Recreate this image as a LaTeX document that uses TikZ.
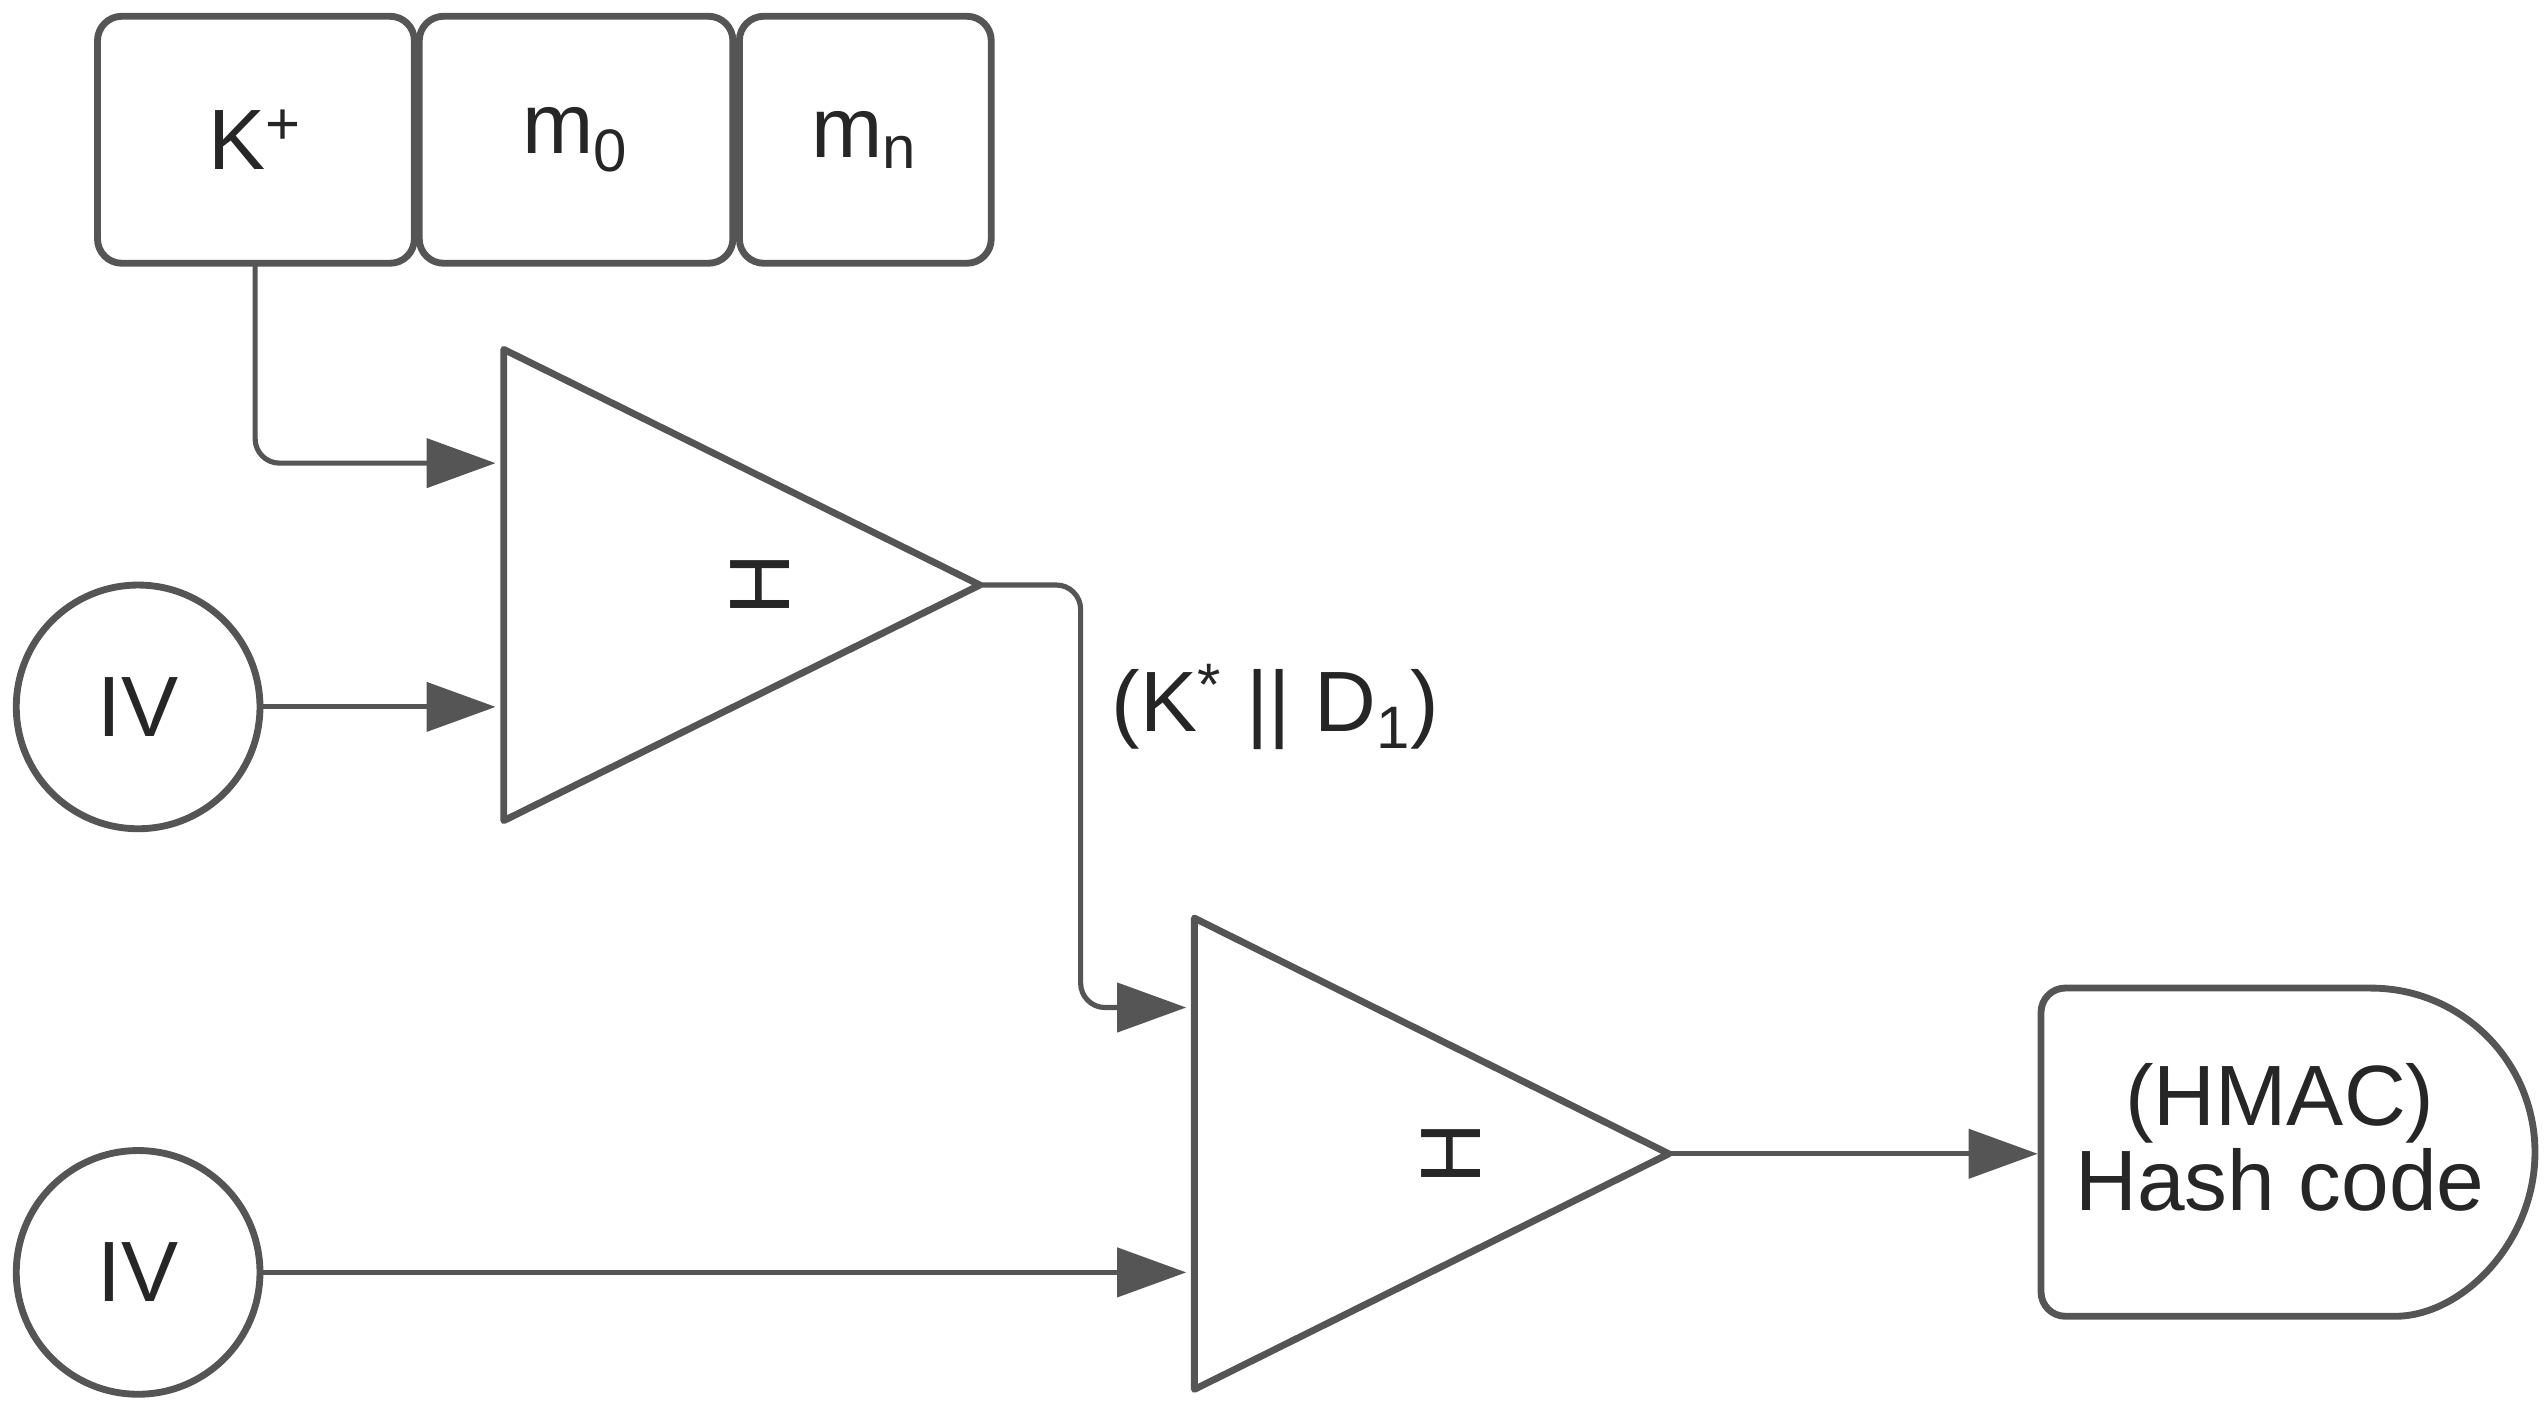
\documentclass[tikz,border=0pt]{standalone}
\usepackage{fontspec}
\setmainfont{Liberation Sans}
\usetikzlibrary{arrows.meta}
\definecolor{ln}{HTML}{555555}
\begin{document}
\begin{tikzpicture}[x=0.02cm,y=-0.02cm,
  every node/.style={font=\fontsize{30}{36}\selectfont,text=black!85},
  shp/.style={draw=ln,line width=2.4pt,line join=round},
  box/.style={shp,rounded corners=0.3cm},
  con/.style={draw=ln,line width=1.8pt,-{Triangle[length=0.85cm,width=0.6cm]},rounded corners=0.3cm}]
\useasboundingbox (0,0) rectangle (1568,870);
% boxes
\draw[box] (60,10) rectangle (255,162);
\node (k) at (157,86) {K\textsuperscript{+}};
\draw[box] (258,10) rectangle (451,162);
\node (m0) at (354,86) {m\textsubscript{0}};
\draw[box] (455,10) rectangle (610,162);
\node (mn) at (532,86) {m\textsubscript{n}};
\coordinate (kb) at (157,162);
% triangles
\draw[shp] (310,215) -- (603,360) -- (310,505) -- cycle;
\coordinate (t1a) at (305,285); \coordinate (t1b) at (305,435); \coordinate (t1o) at (603,360);
\node[rotate=90] at (468,360) {H};
\draw[shp] (735,565) -- (1027,710) -- (735,855) -- cycle;
\coordinate (t2a) at (730,620); \coordinate (t2b) at (730,783); \coordinate (t2o) at (1027,710);
\node[rotate=90] at (893,710) {H};
% IVs
\node[shp,circle,minimum size=3cm,inner sep=0pt] (iv1) at (85,435) {IV};
\node[shp,circle,minimum size=3cm,inner sep=0pt] (iv2) at (85,783) {IV};
% hash code
\draw[box] (1459,608) -- (1256,608) -- (1256,810) -- (1459,810) [sharp corners] arc(-90:90:2.02cm);
\node[align=center] (hc) at (1403,700) {(HMAC)\\[-6pt]Hash code};
\coordinate (hin) at (1254,710);
% connectors
\draw[con] (kb) |- (t1a);
\draw[con] (iv1) -- (t1b);
\draw[con] (t1o) -| (665,620) -- (t2a);
\node (lab) at (785,435) {(K\textsuperscript{*} || D\textsubscript{1})};
\draw[con] (iv2) -- (t2b);
\draw[con] (t2o) -- (hin);
\end{tikzpicture}
\end{document}
